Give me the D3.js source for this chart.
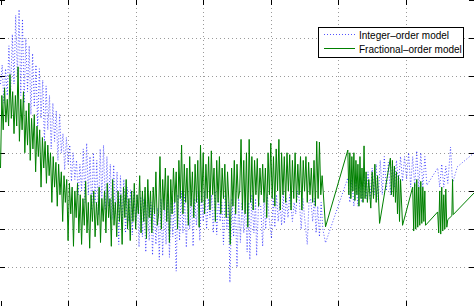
<!DOCTYPE html>
<html><head><meta charset="utf-8">
<script src="https://cdn.jsdelivr.net/npm/d3@7"></script>
<style>html,body{margin:0;padding:0;background:#fff;overflow:hidden}svg{display:block}</style>
</head><body><svg id="c" width="474" height="306"></svg>
<script>
// ---- data ----
const xTicks = [0, 10, 20, 30, 40, 50, 60, 70];
const yTicks = [0, 10, 20, 30, 40, 50, 60, 70, 80];
const seriesNames = ["Integer\u2013order model", "Fractional\u2013order model"];

// Integer-order model (blue dotted)
const intTime = [0,0.25,0.5,0.75,1,1.25,1.5,1.75,2,2.25,2.5,2.75,3,3.25,3.5,3.75,4,4.25,4.5,4.75,5,5.25,5.5,5.75,6,6.25,6.5,6.75,7,7.25,7.5,7.75,8,8.25,8.5,8.75,9,9.25,9.5,9.75,10,10.25,10.5,10.75,11,11.25,11.5,11.75,12,
12.25,12.5,12.75,13,13.25,13.5,13.75,14,14.25,14.5,14.75,15,15.25,15.5,15.75,16,16.25,16.5,16.75,17,17.25,17.5,17.75,18,18.25,18.5,18.75,19,19.25,19.5,19.75,20,20.25,20.5,20.75,21,21.25,21.5,21.75,22,22.25,22.5,22.75,23,23.25,23.5,23.75,
24,24.25,24.5,24.75,25,25.25,25.5,25.75,26,26.25,26.5,26.75,27,27.25,27.5,27.75,28,28.25,28.5,28.75,29,29.25,29.5,29.75,30,30.25,30.5,30.75,31,31.25,31.5,31.75,32,32.25,32.5,32.75,33,33.25,33.5,33.75,33.95,34.25,34.5,34.75,35,35.25,35.5,35.75,
36,36.25,36.5,36.75,36.9,37.2,37.5,37.75,37.9,38.2,38.5,38.8,39,39.25,39.5,39.75,40.1,40.35,40.6,40.85,41.1,41.35,41.6,41.85,42,42.3,42.55,42.8,43.2,43.45,43.7,43.95,44.2,44.5,44.75,45,45.4,45.65,45.9,46.2,46.45,46.7,46.95,47.2,47.45,47.7,48.1,
51.4,51.7,52,52.3,52.6,52.9,53.2,53.5,53.8,54.1,54.4,54.7,55,55.3,55.6,55.9,56.2,56.5,56.8,57.1,57.4,57.7,58,58.3,58.6,58.9,59.2,59.5,59.8,60.1,60.4,60.7,61,61.3,61.6,61.9,62.2,62.5,62.8,63.1,
64.7,65,65.3,65.6,65.9,66.2,66.6,66.9,67.6,70.1];
const intValue = [58,63,53,62,55,68,56,71,58,76,60,77.5,55,75,53,70,56,68,50,66,52,63,47,62,49,59,43,57.5,46,55,41,53,43,51,38,50,40,45,35.5,44,37,42,32.5,40,33,38,29,37,30,
41,27,42.5,29,39,25,40,27,38,23.7,41,28,42,25,39,26,37,22.5,36.8,24,35,16,34,21,33,19,31,22,30.3,18.5,30,21,29,15.3,28.5,18,28,14,27.6,17,27,13.2,26,16,25.5,12,28,
13,27,16,28,12.6,27,18,28,9,29,17,30,19,29,15.2,27.5,20,29,15.5,28,21,30,17,29,22,30,20,28,23,29,19,30,18.6,28,22,27,16,29,20,27,6,28,18,27,10,28,16.5,27,
19,28,14,27,12,29,19,28,13,27,26,15.5,28,20,29,23,17.5,28,20.5,29,22,27,21,30,21.5,28,23,29,22,27,24,30,28,20,28,23,16,27,28,22,28,19,26,18,27,20,16.4,
33.4,27,33,26,32.5,26,33,27,34,28,35,28,36,29,37,27.5,38,29,39,30,37.5,29,37,31,38,32,39,32.5,39,33,40,31,39,31,40.5,30.5,40,31,39,31.5,
36,31,37,31,36.5,32,41.5,32,36.3,40];

// Fractional-order model (green solid)
const fracTime = [0,0.2,0.4,0.6,0.8,1,1.2,1.4,1.6,1.8,2,2.2,2.4,2.6,2.8,3,3.2,3.4,3.6,3.8,4,4.2,4.4,4.6,4.8,5,5.2,5.4,5.6,5.8,6,6.2,6.4,6.6,6.8,7,7.2,7.4,7.6,7.8,8,8.2,8.4,8.6,8.8,9,9.2,9.4,9.6,9.8,10,10.2,10.4,10.6,10.8,11,11.2,11.4,11.6,11.8,
12,12.2,12.4,12.6,12.8,13,13.2,13.4,13.6,13.8,14,14.2,14.4,14.6,14.8,15,15.2,15.4,15.6,15.8,16,16.2,16.4,16.6,16.8,17,17.2,17.4,17.6,17.8,18,18.2,18.4,18.6,18.8,19,19.2,19.4,19.6,19.8,20,20.2,20.4,20.6,20.8,21,21.2,21.4,21.6,21.8,22,22.2,22.4,22.6,22.8,23,23.2,23.4,23.6,23.8,
24,24.2,24.4,24.6,24.8,25,25.2,25.4,25.6,25.8,26,26.2,26.4,26.6,26.8,27,27.2,27.4,27.6,27.8,28,28.2,28.4,28.6,28.8,29,29.2,29.4,29.6,29.8,30,30.2,30.4,30.6,30.8,31,31.2,31.4,31.6,31.8,32,32.2,32.4,32.6,32.8,33,33.2,33.4,33.6,33.8,34,34.2,34.4,34.6,34.8,35,35.2,35.4,35.6,35.8,
36,36.2,36.4,36.6,36.8,37,37.2,37.4,37.6,37.8,38,38.2,38.4,38.6,38.8,39,39.2,39.4,39.6,39.8,40,40.2,40.4,40.6,40.8,41,41.2,41.4,41.6,41.8,42,42.2,42.4,42.6,42.8,43,43.2,43.4,43.6,43.8,44,44.2,44.4,44.6,44.8,45,45.2,45.4,45.6,45.8,46,46.2,46.4,46.6,46.8,47,47.2,47.4,47.6,48.1,
51.4,51.55,51.7,51.85,52,52.15,52.3,52.45,52.6,52.75,52.9,53.05,53.2,53.35,53.5,53.65,53.8,53.95,54.1,54.3,54.5,54.8,55,55.2,55.4,55.6,55.8,56.1,
57.7,57.85,58,58.15,58.3,58.45,58.6,58.75,58.9,59.05,59.2,59.5,
61,61.15,61.3,61.45,61.6,61.75,61.9,62.05,62.2,62.35,62.5,62.65,62.8,62.9,
64.7,64.85,65,65.15,65.3,65.45,65.6,65.75,65.9,66.05,66.2,66.8,66.9,67,70.1];
const fracValue = [36,55,46,57,48,54,47,60.5,49,56,45,55,47,62.5,43,54,46,56,40,51,42,53,38,49,41,50,35,47,39,46,31,44,36,43,32,42,34,40,27,39,31,37.5,26,37,29,35,22,34,27,33,17,32,24,31,15.5,30,23,32,19,29,
16,28,21,32.5,19,27,15,29,22,30,18,27,21,31,16.5,28,22,30,19,32,23,28,15.5,33,21,27,18,30,22,29,16,31,23,33,20,28,17,30,22,32,20,29,24,34,19,30,22,31,17.5,33,23,30,19,31,24,35,21,24,39,20,
33,25,36,22,34,16.5,33,24,36,27,35,20,38,28,42,24,37,27,36,21,39,26,35,23,37,27,38,20.5,42,27,40,24,37,28,39,25,40.5,29,36,22,38,27,39,24,36,28,37,23,35,27,16,36,26,38,24,37,28,30,43.5,25,
38,24,40,20.5,43.5,27,39,25,38,29,38.5,26,36,29,37,27,36,23,40,29,42.5,28,39,26,41,30,43.5,25,40,29,39,27,40,30,39.5,25,38,28,40,27,37,29,39,25,38,30,39,27,37.5,29,36,27,38,26,43,28,42.8,29,34,20.6,
40.7,29,40,28,39,30,40,27.5,38,29,37,26,39,28,36,27,41.8,28,35,27,33,25.5,35,28,37,27,34,21.5,
38.6,29,38,28.5,36.5,27,35,24,34,22,33,21,
31,19.5,32,20,33,20.5,31,21,32.5,21.5,31,22,30,21,
24.5,19,30,18.7,31,19.5,29,20,30.5,20.5,22.5,23.5,33,23.8,29.5];

// ---- drawing ----
const W = 474, H = 306;
const svg = d3.select("#c");
svg.append("rect").attr("width", W).attr("height", H).attr("fill", "#fff");

const x = d3.scaleLinear().domain([0, 70]).range([0.5, 473.5]);
const y = d3.scaleLinear().domain([0, 80]).range([305.5, 0]);
const px = v => Math.round(x(v)) + 0.5;
const py = v => Math.round(y(v)) + 0.5;

// grid
const grid = svg.append("g").attr("stroke", "#9a9a9a").attr("stroke-width", 1).attr("stroke-dasharray", "1 3");
grid.selectAll("line.gx").data(xTicks.slice(1, -1)).join("line").attr("class", "gx")
  .attr("x1", d => px(d)).attr("x2", d => px(d)).attr("y1", 0).attr("y2", H);
grid.selectAll("line.gy").data(yTicks.slice(1, -1)).join("line").attr("class", "gy")
  .attr("y1", d => py(d)).attr("y2", d => py(d)).attr("x1", 0).attr("x2", W);

// axes (inward ticks on all four sides, no labels)
function fixAxis(g, horiz) {
  g.select(".domain").remove();
  g.selectAll("text").remove();
  g.selectAll(".tick").attr("transform", d => horiz ? `translate(${px(d)},0)` : `translate(0,${py(d)})`);
  g.selectAll(".tick line").attr("stroke", "#000").attr("stroke-width", 1);
}
const tk = 5;
svg.append("g")
  .call(d3.axisTop(x).tickValues(xTicks).tickSize(-tk).tickFormat(""))
  .call(g => fixAxis(g, true));
svg.append("g").attr("transform", `translate(0,${H})`)
  .call(d3.axisBottom(x).tickValues(xTicks).tickSize(-tk).tickFormat(""))
  .call(g => fixAxis(g, true));
svg.append("g")
  .call(d3.axisLeft(y).tickValues(yTicks).tickSize(-tk).tickFormat(""))
  .call(g => fixAxis(g, false));
svg.append("g").attr("transform", `translate(${W},0)`)
  .call(d3.axisRight(y).tickValues(yTicks).tickSize(-tk).tickFormat(""))
  .call(g => fixAxis(g, false));

// series
const line = d3.line().x(d => x(d[0])).y(d => y(d[1]));
const intData = intTime.map((t, i) => [t, intValue[i]]);
const fracData = fracTime.map((t, i) => [t, fracValue[i]]);

svg.append("path").datum(intData).attr("d", line)
  .attr("fill", "none").attr("stroke", "#0000ff").attr("stroke-width", 0.8)
  .attr("stroke-dasharray", "1 2").attr("stroke-opacity", 0.85);
svg.append("path").datum(fracData).attr("d", line)
  .attr("fill", "none").attr("stroke", "#008000").attr("stroke-width", 1);

// legend
const lg = svg.append("g");
lg.append("rect").attr("x", 318.5).attr("y", 27.5).attr("width", 145).attr("height", 30)
  .attr("fill", "#fff").attr("stroke", "#000").attr("stroke-width", 1);
const styles = [
  {stroke: "#0000ff", dash: "1 2", w: 0.8, op: 0.85},
  {stroke: "#008000", dash: null, w: 1, op: 1}
];
seriesNames.forEach((name, i) => {
  const cy = 34.5 + i * 14;
  lg.append("line").attr("x1", 324).attr("x2", 355).attr("y1", cy).attr("y2", cy)
    .attr("stroke", styles[i].stroke).attr("stroke-width", styles[i].w)
    .attr("stroke-dasharray", styles[i].dash).attr("stroke-opacity", styles[i].op);
  lg.append("text").attr("x", 359).attr("y", cy + 4)
    .attr("font-family", "'Liberation Sans', Arial, Helvetica, sans-serif").attr("font-size", 10)
    .attr("fill", "#000").text(name);
});
</script></body></html>
